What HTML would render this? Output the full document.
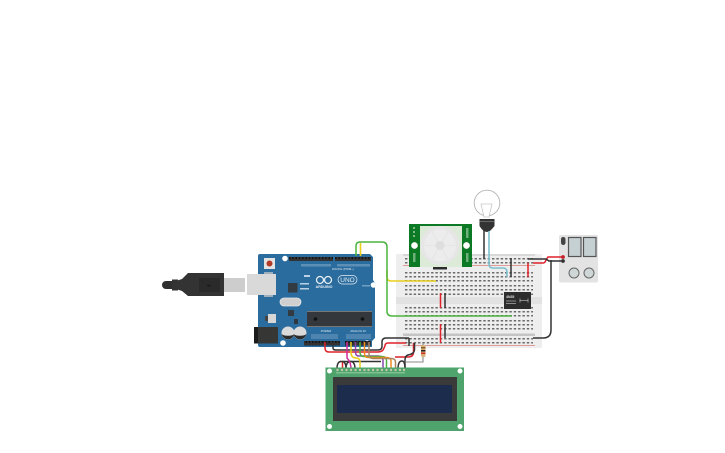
<!DOCTYPE html>
<html><head><meta charset="utf-8"><style>
html,body{margin:0;padding:0;background:#fff;width:725px;height:453px;overflow:hidden}
svg{display:block}
text{font-family:"Liberation Sans",sans-serif}
</style></head><body>
<svg width="725" height="453" viewBox="0 0 725 453" xmlns="http://www.w3.org/2000/svg">
<defs>
<pattern id="pin" x="288" y="0" width="3.3" height="4" patternUnits="userSpaceOnUse"><rect width="3.3" height="4" fill="#333"/><rect x="1" y="1" width="1.3" height="2" fill="#111"/></pattern>
</defs>

<!-- USB cable -->
<rect x="162" y="281" width="14" height="8" rx="4" fill="#2f2f2f"/>
<rect x="172" y="279.500" width="6" height="11" fill="#333"/>
<path d="M176 281 L182 279 L188 273 H224 V296 H188 L182 291 L176 289Z" fill="#333"/>
<rect x="199" y="278" width="21" height="14" fill="#2a2a2a"/>
<text x="209" y="288" font-size="8" fill="#111" text-anchor="middle">⌁</text>
<rect x="224" y="278" width="21" height="14" fill="#cdcdcd"/>

<!-- Arduino -->
<path d="M258 256 Q258 254 260 254 H370 L373 257 V280 L375 283 V338 L372 341 V347 H260 Q258 347 258 345Z" fill="#2b6c9f"/>
<rect x="247" y="274" width="29" height="21" fill="#d9d9d9"/>
<rect x="264" y="272" width="9" height="2" fill="#9fb0bd"/>
<rect x="264" y="295" width="9" height="2" fill="#9fb0bd"/>
<circle cx="285" cy="258.500" r="2.800" fill="#fff"/>
<circle cx="373.500" cy="285" r="2.800" fill="#fff"/>
<circle cx="283" cy="343" r="2.800" fill="#fff"/>
<circle cx="367" cy="343" r="2.800" fill="#fff"/>
<rect x="264" y="258" width="11" height="11" fill="#e3e3e3"/>
<circle cx="269.500" cy="263.500" r="3" fill="#b23a26"/>
<rect x="289" y="257" width="44" height="4" fill="url(#pin)"/>
<rect x="335" y="257" width="36" height="4" fill="url(#pin)"/>
<rect x="304" y="341" width="36" height="4.500" fill="url(#pin)"/>
<rect x="345" y="341" width="26" height="4.500" fill="url(#pin)"/>
<rect x="288" y="283" width="9.500" height="9.500" fill="#333b42"/>
<rect x="280" y="298" width="21" height="8" rx="4" fill="#cfcfcf" stroke="#e6e6e6" stroke-width=".8"/>
<rect x="288" y="310" width="6" height="6" fill="#333b42"/>
<rect x="268" y="314" width="8" height="9" fill="#d7d7d7"/>
<rect x="265" y="316" width="3" height="5" fill="#444"/>
<rect x="294" y="319" width="4" height="5" fill="#30383f"/>
<rect x="307" y="311" width="65" height="16" fill="#34383c"/>
<rect x="307" y="311" width="65" height="1" fill="#777"/>
<rect x="307" y="326" width="65" height="1" fill="#777"/>
<circle cx="315.500" cy="319" r="1.800" fill="#111"/>
<circle cx="362.500" cy="319" r="1.800" fill="#111"/>
<rect x="254" y="327" width="24" height="16.500" fill="#363635"/>
<rect x="254" y="327" width="4" height="16.500" fill="#1b1b1b"/>
<circle cx="288" cy="333" r="6.500" fill="#dadada"/>
<path d="M281.600 334 A6.500 6.500 0 0 0 294.400 334 A7 3 0 0 1 281.600 334Z" fill="#2c2c2c"/>
<circle cx="300" cy="333" r="6.500" fill="#dadada"/>
<path d="M293.600 334 A6.500 6.500 0 0 0 306.400 334 A7 3 0 0 1 293.600 334Z" fill="#2c2c2c"/>
<g fill="none" stroke="#e8eef3" stroke-width="1.300">
<circle cx="320" cy="280" r="3.500"/><circle cx="328" cy="280" r="3.500"/>
<rect x="338" y="275.500" width="19" height="8.500" rx="4.250" stroke-width=".7"/>
</g>
<text x="347.500" y="282" font-size="6.500" fill="#e8eef3" text-anchor="middle">UNO</text>
<text x="324" y="288" font-size="3.600" font-weight="bold" fill="#e8eef3" text-anchor="middle">ARDUINO</text>
<text x="332" y="270" font-size="2.800" fill="#dfe8ee">DIGITAL (PWM~)</text>
<text x="326" y="332" font-size="2.800" fill="#dfe8ee" text-anchor="middle">POWER</text>
<text x="358" y="332" font-size="2.800" fill="#dfe8ee" text-anchor="middle">ANALOG IN</text>
<g fill="#b9d1e2">
<rect x="301" y="264" width="30" height="2.500" opacity=".35"/>
<rect x="337" y="264" width="33" height="2.500" opacity=".35"/>
<rect x="311" y="334" width="27" height="5" opacity=".25"/>
<rect x="346" y="334" width="25" height="5" opacity=".25"/>
<rect x="304" y="275" width="6" height="2"/>
<rect x="300" y="283" width="9" height="1.500"/>
<rect x="300" y="288" width="9" height="1.500"/>
<rect x="362" y="285" width="8" height="1.500" opacity=".5"/>
</g>

<!-- Breadboard -->
<rect x="396" y="254" width="146" height="94" rx="1.500" fill="#eeeeee"/>
<rect x="396" y="297" width="146" height="7" fill="#e2e2e2"/>
<rect x="403" y="265" width="132" height="1" fill="#dd9d96"/>
<rect x="403" y="254.500" width="132" height="1" fill="#c2c2c2"/>
<rect x="403" y="333.500" width="132" height="2.500" fill="#c4c4c4"/>
<rect x="403" y="345" width="132" height="1" fill="#dd9d96"/>
<path fill="none" stroke="#6a6a6a" stroke-width="1.500" stroke-dasharray="2.400 1.950" d="M405 258.700H533 M405 262.700H533 M405 272.700H533 M405 276.700H533 M405 280.700H533 M405 285.700H533 M405 289.700H533 M405 294.200H533 M405 307.700H533 M405 311.700H533 M405 315.700H533 M405 320.700H533 M405 324.700H533 M405 328.700H533 M405 338.700H533 M405 342.700H533"/>

<!-- IC on breadboard -->
<rect x="504" y="292" width="27" height="17" fill="#2d2d2d"/>
<text x="506" y="298" font-size="3.500" fill="#ddd" font-weight="bold">4N35</text>
<path d="M506 301 H516 M506 303.500 H516 M520 300.500 H528 M520 298.500 V302.500 M528 298.500 V302.500" stroke="#aaa" stroke-width=".8" fill="none"/>

<!-- Bulb -->
<circle cx="487" cy="203" r="12.800" fill="#fff" stroke="#b5b5b5" stroke-width=".9"/>
<path d="M481 204 H492 L489 217 H484Z" fill="#fff" stroke="#c8c8c8" stroke-width=".8"/>
<path d="M479.500 219 H494.500 V226 Q490 232 487 232 Q483 232 479.500 226Z" fill="#333"/>
<path d="M480 221.500 H494" stroke="#777" stroke-width=".8"/>
<path d="M484 230 V259" stroke="#333" stroke-width="1.500" fill="none"/>
<path d="M489 231 V264 Q489 268 493 268 H503 Q507 268 507 272 V277" stroke="#7dbfce" stroke-width="1.600" fill="none"/>

<!-- PIR -->
<rect x="409" y="224" width="63" height="43" fill="#0c7a24"/>
<rect x="420" y="226" width="42" height="41" fill="#dcebd8"/>
<circle cx="414.500" cy="245.500" r="3.200" fill="#fff" stroke="#cfcfcf" stroke-width=".5"/>
<circle cx="466.500" cy="245.500" r="3.200" fill="#fff" stroke="#cfcfcf" stroke-width=".5"/>
<circle cx="440" cy="245.500" r="19.500" fill="#e6e6e6"/>
<circle cx="440" cy="245.500" r="16" fill="#ececec"/>
<path d="M440 245.500 L424 245.500 M440 245.500 L432 231.500 M440 245.500 L448 231.500 M440 245.500 L456 245.500 M440 245.500 L448 259.500 M440 245.500 L432 259.500" stroke="#e3e3e3" stroke-width=".8"/>
<circle cx="440" cy="245.500" r="4.500" fill="#dedede"/>
<rect x="433" y="267" width="14" height="2.500" fill="#2c2c2c"/>
<g fill="#cfe5d0"><circle cx="414" cy="228" r=".9"/><circle cx="414" cy="232" r=".9"/><circle cx="414" cy="236" r=".9"/><rect x="413" y="253" width="2.500" height="9" opacity=".5"/><rect x="466" y="228" width="2.500" height="10" opacity=".5"/><rect x="466" y="253" width="2.500" height="9" opacity=".5"/></g>

<!-- Switch -->
<rect x="559" y="235" width="39" height="47.500" rx="1.500" fill="#e3e3e3"/>
<rect x="568.500" y="237.500" width="12.500" height="19" fill="#c5d0d3" stroke="#555" stroke-width="1.200"/>
<rect x="583.500" y="237.500" width="12.500" height="19" fill="#c5d0d3" stroke="#555" stroke-width="1.200"/>
<rect x="561" y="237" width="4.500" height="8" rx="2.200" fill="#444"/>
<circle cx="574" cy="273" r="5" fill="#cfd6d6" stroke="#666" stroke-width="1"/>
<circle cx="589" cy="273" r="5" fill="#cfd6d6" stroke="#666" stroke-width="1"/>

<!-- Breadboard jumpers -->
<g fill="none" stroke-width="1.500">
<path d="M511 258 V277" stroke="#333"/>
<path d="M528 263 V277" stroke="#e0222a"/>
<path d="M440.500 293 V308 M440.500 324 V343" stroke="#e0222a"/>
<path d="M445 293 V308 M445 324 V338" stroke="#333"/>
<path d="M533 263 H543 Q545 263 546 260 L548 257 H563" stroke="#e0222a"/>
<path d="M528 259 H546 L549 261 H563" stroke="#333"/>
<path d="M551 260 V330 Q551 338 543 338 H533" stroke="#333"/>
</g>
<circle cx="563" cy="257" r="1.900" fill="#c4222a"/>
<circle cx="563" cy="261" r="1.900" fill="#333"/>

<!-- Arduino to breadboard -->
<path d="M360.500 256 V243" stroke="#e8cf1a" stroke-width="1.600" fill="none"/>
<path d="M387 270 V277 Q387 281 391 281 H436" stroke="#e8cf1a" stroke-width="1.600" fill="none"/>
<path d="M356 256 V246 Q356 242 360 242 H382 Q387 242 387 247 V311 Q387 316 392 316 H512" stroke="#4bb33f" stroke-width="1.500" fill="none"/>

<!-- Lower wiring -->
<g fill="none" stroke-width="1.500">
<path d="M325 342 V348 Q325 352 329 352 H378 Q383 352 384 348 L385 346 Q385 343 388 343 H406" stroke="#e0222a"/>
<path d="M333 342 V348 Q333 350 336 350 H378 Q382 350 382 346 V342 Q382 338 386 338 H409" stroke="#333"/>
<path d="M413.500 343 V352 Q413.500 357 408 357 H395" stroke="#e0222a"/>
<path d="M409 338 V346 M414.500 343 V350 Q414 354 408 355 Q405 356 405 360 V369" stroke="#333"/>
<path d="M340 361.500 H381" stroke="#333"/>
<path d="M342.500 370 V361" stroke="#e0222a"/>
<path d="M337 369 Q337 361.500 341 361.500 M346 369 Q346 361.500 342 361.500 M346 369 Q346 361.500 350.500 361.500 Q355 361.500 355 369 M398 369 Q398 361 402 361 Q405 361 405 369" stroke="#333"/>
<path d="M347 342 V358 Q351 362 351 369" stroke="#cf2a9c"/>
<path d="M351 342 V352 Q351 358 356 358 Q360 358 360 362 V369" stroke="#e8cf1a"/>
<path d="M355.500 342 V352 Q355.500 356 359 356 H378 Q383 356 383 360 V369" stroke="#8a46a8"/>
<path d="M360 342 V352 Q360 356 363 356.500 H382 Q386 356.500 386.500 360 V369" stroke="#4bb33f"/>
<path d="M364.500 342 V353 Q364.500 357.500 368 357.500 H386 Q391 357.500 391 361 V369" stroke="#ef8a1c"/>
<path d="M369 342 V354 Q369 358.500 373 358.500 H391 Q395.500 358.500 395.500 362 V369" stroke="#a9835f"/>
</g>
<path d="M423 343 V345 M423 357 V362 H405" stroke="#888" stroke-width="1.100" fill="none"/>
<rect x="421" y="345" width="4.500" height="12" rx="1.500" fill="#d5b27a"/>
<rect x="421" y="347" width="4.500" height="1.500" fill="#8a5a2a"/>
<rect x="421" y="350" width="4.500" height="1.500" fill="#222"/>
<rect x="421" y="352.500" width="4.500" height="1.500" fill="#d0322a"/>

<!-- LCD -->
<rect x="325.500" y="367.500" width="138.500" height="63.500" fill="#4ea46c"/>
<circle cx="329.500" cy="371" r="2.500" fill="#fff"/>
<circle cx="460" cy="371" r="2.500" fill="#fff"/>
<circle cx="329.500" cy="426.500" r="2.500" fill="#fff"/>
<circle cx="460" cy="426.500" r="2.500" fill="#fff"/>
<rect x="333" y="377" width="124" height="44" fill="#3a3a3a"/>
<rect x="337" y="385" width="115" height="28" fill="#1c2c4d"/>
<g fill="#c8c8a8">
<circle cx="337.500" cy="370" r="1.200"/><circle cx="342" cy="370" r="1.200"/><circle cx="346.500" cy="370" r="1.200"/><circle cx="351" cy="370" r="1.200"/><circle cx="355.500" cy="370" r="1.200"/><circle cx="360" cy="370" r="1.200"/><circle cx="364.500" cy="370" r="1.200"/><circle cx="368.500" cy="370" r="1.200"/><circle cx="373" cy="370" r="1.200"/><circle cx="377.500" cy="370" r="1.200"/><circle cx="382" cy="370" r="1.200"/><circle cx="386.500" cy="370" r="1.200"/><circle cx="391" cy="370" r="1.200"/><circle cx="395.500" cy="370" r="1.200"/><circle cx="400" cy="370" r="1.200"/><circle cx="404" cy="370" r="1.200"/>
</g>
<rect x="336" y="372" width="69" height="1.500" fill="#cfe3d0" opacity=".4"/>
</svg>
</body></html>
